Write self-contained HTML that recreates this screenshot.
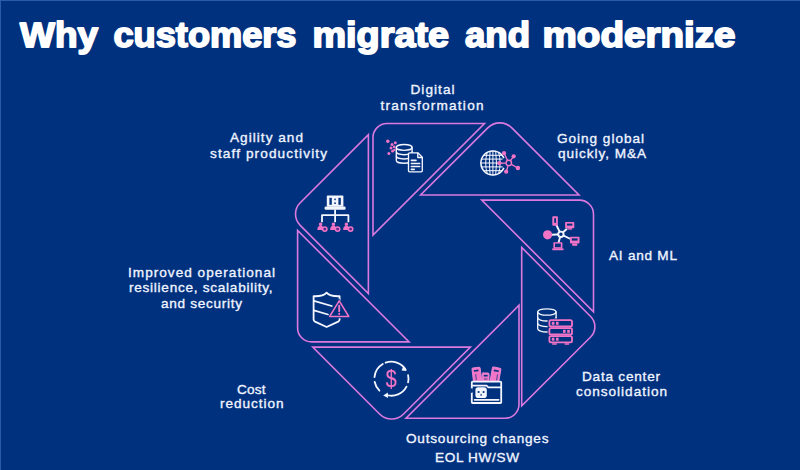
<!DOCTYPE html>
<html lang="en">
<head>
<meta charset="utf-8">
<title>Why customers migrate and modernize</title>
<style>
  html, body { margin:0; padding:0; background:#00317F; }
  body { width:800px; height:470px; overflow:hidden; position:relative; font-family:"Liberation Sans", sans-serif; }
  svg { display:block; position:absolute; left:0; top:0; }
  .title text { font-family:"Liberation Sans", sans-serif; font-weight:bold; font-size:34.8px; fill:#fff; stroke:#fff; stroke-width:1.8px; stroke-linejoin:round; }
  .lab text { font-family:"Liberation Sans", sans-serif; font-size:13.6px; fill:#F0F4FF; stroke:#F0F4FF; stroke-width:0.35px; }
  .tri { filter: blur(0.35px); }
  #icons { filter: blur(0.3px); }
  .tri path { fill:none; stroke:#DB79DF; stroke-width:1.6; stroke-linejoin:miter; }
</style>
</head>
<body>
<svg width="800" height="470" viewBox="0 0 800 470">
  <rect x="0" y="0" width="800" height="470" fill="#00317F"/>
  <rect x="0" y="0" width="800" height="1" fill="#2C5AA6"/>
  <rect x="0" y="0" width="1" height="470" fill="#2C5AA6"/>
  <g class="title">
    <text x="20.0" y="47.0" textLength="78.0" lengthAdjust="spacingAndGlyphs">Why</text>
    <text x="113.5" y="47.0" textLength="183.0" lengthAdjust="spacingAndGlyphs">customers</text>
    <text x="312.5" y="47.0" textLength="136.5" lengthAdjust="spacingAndGlyphs">migrate</text>
    <text x="465.0" y="47.0" textLength="65.0" lengthAdjust="spacingAndGlyphs">and</text>
    <text x="542.5" y="47.0" textLength="193.0" lengthAdjust="spacingAndGlyphs">modernize</text>
  </g>
  <g class="tri">
    <path d="M387.00,123.50 L484.50,123.50 L373.00,235.00 L373.00,137.50 A14,14 0 0 1 387.00,123.50 Z"/>
    <path d="M511.82,127.82 L579.00,195.00 L420.60,195.00 L487.78,127.82 A17,17 0 0 1 511.82,127.82 Z"/>
    <path d="M593.50,214.10 L593.50,311.90 L481.70,200.10 L579.50,200.10 A14,14 0 0 1 593.50,214.10 Z"/>
    <path d="M590.65,336.95 L521.70,405.90 L521.70,247.50 L590.65,316.45 A14.5,14.5 0 0 1 590.65,336.95 Z"/>
    <path d="M505.00,418.30 L406.00,418.30 L519.00,305.30 L519.00,404.30 A14,14 0 0 1 505.00,418.30 Z"/>
    <path d="M379.58,413.98 L312.76,347.16 L470.44,347.16 L403.62,413.98 A17,17 0 0 1 379.58,413.98 Z"/>
    <path d="M297.60,327.90 L297.60,230.40 L409.10,341.90 L311.60,341.90 A14,14 0 0 1 297.60,327.90 Z"/>
    <path d="M300.21,202.79 L368.38,134.62 L368.38,293.58 L300.21,225.41 A16,16 0 0 1 300.21,202.79 Z"/>
  </g>
  <g class="lab">
    <text x="410.5" y="94.3" textLength="44.0" lengthAdjust="spacing">Digital</text>
    <text x="380.5" y="109.7" textLength="103.0" lengthAdjust="spacing">transformation</text>
    <text x="230.0" y="142.2" textLength="73.0" lengthAdjust="spacing">Agility and</text>
    <text x="210.0" y="157.6" textLength="117.0" lengthAdjust="spacing">staff productivity</text>
    <text x="128.0" y="276.6" textLength="147.0" lengthAdjust="spacing">Improved operational</text>
    <text x="129.0" y="292.4" textLength="143.5" lengthAdjust="spacing">resilience, scalability,</text>
    <text x="161.0" y="307.9" textLength="81.0" lengthAdjust="spacing">and security</text>
    <text x="237.0" y="393.6" textLength="28.5" lengthAdjust="spacing">Cost</text>
    <text x="220.0" y="408.0" textLength="63.5" lengthAdjust="spacing">reduction</text>
    <text x="406.0" y="442.6" textLength="142.5" lengthAdjust="spacing">Outsourcing changes</text>
    <text x="435.0" y="461.5" textLength="84.0" lengthAdjust="spacing">EOL HW/SW</text>
    <text x="557.0" y="142.6" textLength="87.0" lengthAdjust="spacing">Going global</text>
    <text x="558.0" y="157.6" textLength="88.0" lengthAdjust="spacing">quickly, M&amp;A</text>
    <text x="609.0" y="259.7" textLength="68.0" lengthAdjust="spacing">AI and ML</text>
    <text x="582.0" y="381.0" textLength="78.0" lengthAdjust="spacing">Data center</text>
    <text x="576.0" y="396.4" textLength="91.0" lengthAdjust="spacing">consolidation</text>
  </g>
  <!-- ICONS -->
  <g id="icons" fill="none" stroke-linecap="round" stroke-linejoin="round">
    <!-- 1: digital transformation : database + document + pixels -->
    <g stroke="#F4F6FF" stroke-width="1.35">
      <ellipse cx="404.2" cy="147.4" rx="7.9" ry="2.9"/>
      <path d="M396.3,147.4 V160.4 A7.9,2.9 0 0 0 412.1,160.4 V147.4"/>
      <path d="M396.3,151.8 A7.9,2.9 0 0 0 412.1,151.8"/>
      <path d="M396.3,156.1 A7.9,2.9 0 0 0 412.1,156.1"/>
      <path d="M409.6,152.8 H417.8 L422.3,157.3 V170.8 Q422.3,171.9 421.2,171.9 H409.6 Q408.5,171.9 408.5,170.8 V153.9 Q408.5,152.8 409.6,152.8 Z" fill="#00317F"/>
      <path d="M417.8,153.2 V157.5 H422.1"/>
      <path d="M411.4,160.4 H416 M411.4,163.5 H419.6 M411.4,166.5 H419.6 M411.4,169.4 H414.2" stroke-width="1.6"/>
    </g>
    <g fill="#F274C6" stroke="none">
      <circle cx="387.8" cy="141.3" r="1.7"/>
      <circle cx="392" cy="144.4" r="1.5"/>
      <circle cx="395.3" cy="142.8" r="1.5"/>
      <circle cx="391" cy="148" r="1.5"/>
      <circle cx="394.2" cy="146.9" r="1.4"/>
      <circle cx="392.6" cy="151.2" r="1.4"/>
      <circle cx="388.9" cy="153.4" r="1.5"/>
      <circle cx="394.4" cy="149.9" r="1.2"/>
    </g>

    <!-- 2: going global : globe + network hub -->
    <g stroke="#F4F6FF" stroke-width="1.35">
      <circle cx="492.9" cy="163" r="12" stroke-width="1.6"/>
      <g stroke-width="1.0">
      <path d="M492.9,151 V175 M495.71,151.33 Q497.29,163.00 495.71,174.67 M490.09,151.33 Q488.51,163.00 490.09,174.67 M498.59,152.44 Q501.81,163.00 498.59,173.56 M487.21,152.44 Q483.99,163.00 487.21,173.56"/>
      <path d="M480.90,163.00 H504.90 M481.55,166.90 H504.25 M481.55,159.10 H504.25 M483.70,170.70 H502.10 M483.70,155.30 H502.10"/>
      </g>
    </g>
    <circle cx="507.6" cy="163" r="6.2" fill="#00317F" stroke="none"/>
    <g stroke="#F274C6" stroke-width="1.4">
      <path d="M508.8,162.9 L504,153.3 M508.8,162.9 L513.6,156.4 M508.8,162.9 L517.8,168 M508.8,162.9 L506.3,171.6 M508.8,162.9 L499.4,163.2"/>
      <circle cx="508.8" cy="162.9" r="2.7" fill="#00317F"/>
    </g>
    <g fill="#F274C6" stroke="none">
      <circle cx="504" cy="153.2" r="2.1"/>
      <circle cx="513.7" cy="156.3" r="2.1"/>
      <circle cx="517.9" cy="168" r="2.2"/>
      <circle cx="506.2" cy="171.7" r="2.1"/>
      <circle cx="499.3" cy="163.2" r="2.1"/>
    </g>

    <!-- 3: AI and ML : hub with devices -->
    <g stroke="#F4F6FF" stroke-width="1.9">
      <path d="M560.9,234.3 L556.6,225.5 M560.9,234.3 L566.4,229.3 M560.9,234.3 L570.6,239 M560.9,234.3 L558.6,242.4 M560.9,234.3 L552,234.7"/>
      <circle cx="560.9" cy="234.3" r="2.7" fill="#00317F"/>
    </g>
    <g fill="#F274C6" stroke="none">
      <rect x="552.3" y="216.2" width="5.6" height="9.6" rx="0.8"/>
      <rect x="565.1" y="222" width="9.2" height="6.2" rx="0.8"/>
      <rect x="567.4" y="228.2" width="4.6" height="1.4"/>
      <rect x="569.9" y="236.8" width="9.6" height="6.6" rx="0.8"/>
      <rect x="572.2" y="243.4" width="5" height="2.4"/>
      <rect x="553.4" y="242.2" width="9" height="6.2" rx="0.6"/>
      <rect x="552.2" y="248.3" width="11.4" height="1.9" rx="0.6"/>
      <circle cx="547.6" cy="234.8" r="4.6"/>
    </g>
    <g fill="#00317F" stroke="none">
      <rect x="554.2" y="218.2" width="1.8" height="4.6"/>
      <rect x="567" y="223.6" width="5.4" height="2"/>
      <rect x="571.8" y="238.4" width="5.8" height="2.2"/>
      <rect x="555" y="243.6" width="5.8" height="3.6"/>
    </g>

    <!-- 4: data center consolidation : database + server rack -->
    <g stroke="#F4F6FF" stroke-width="1.35">
      <ellipse cx="546.9" cy="312" rx="9.2" ry="3.2"/>
      <path d="M537.7,312 V328.8 A9.2,3.2 0 0 0 556.1,328.8 V312"/>
      <path d="M537.7,317.8 A9.2,3.2 0 0 0 556.1,317.8"/>
      <path d="M537.7,323.4 A9.2,3.2 0 0 0 556.1,323.4"/>
    </g>
    <rect x="547.6" y="318.4" width="26" height="26" fill="#00317F" stroke="none"/>
    <g stroke="#F274C6" stroke-width="1.8">
      <rect x="549.4" y="320.1" width="22.6" height="6.4" rx="1.6"/>
      <rect x="549.4" y="328.1" width="22.6" height="6.4" rx="1.6"/>
      <rect x="549.4" y="336.1" width="22.6" height="6.2" rx="1.6"/>
      <path d="M552.8,344 H556.2 M565.2,344 H568.6" stroke-width="1.6"/>
    </g>
    <g fill="#F274C6" stroke="none">
      <rect x="551.8" y="321.8" width="2.6" height="3"/>
      <rect x="556" y="321.8" width="2.6" height="3"/>
      <rect x="563" y="329.8" width="2.6" height="3"/>
      <rect x="567.2" y="329.8" width="2.6" height="3"/>
      <rect x="551.8" y="337.7" width="2.6" height="3"/>
      <rect x="556" y="337.7" width="2.6" height="3"/>
    </g>

    <!-- 5: outsourcing changes : wallet with cards -->
    <g stroke="#E886D6" stroke-width="1" fill="#F274C6">
      <rect x="473.6" y="367.6" width="8.2" height="15" rx="1.2" transform="rotate(-7 477.6 382)"/>
      <rect x="490" y="367.4" width="8.6" height="15" rx="1.2" transform="rotate(10 494.4 382)"/>
      <rect x="482.2" y="373" width="6.8" height="10" rx="1"/>
    </g>
    <g fill="#00317F" stroke="none">
      <rect x="475.2" y="369.8" width="4.6" height="1.7" transform="rotate(-7 477.6 382)"/>
      <rect x="476" y="374" width="1.2" height="6" transform="rotate(-7 477.6 382)" opacity="0.6"/>
      <rect x="491.8" y="369.8" width="5" height="1.7" transform="rotate(10 494.4 382)"/>
      <rect x="495.6" y="374" width="1.2" height="6" transform="rotate(10 494.4 382)" opacity="0.6"/>
      <rect x="483.8" y="374.9" width="3.8" height="1.6"/>
      <rect x="484" y="378.4" width="3.4" height="1.2" opacity="0.6"/>
    </g>
    <rect x="471.8" y="381.6" width="29.4" height="21.4" fill="#00317F" stroke="none"/>
    <g stroke="#F4F6FF" stroke-width="1.8">
      <rect x="471.8" y="381.6" width="29.4" height="21.4" rx="0.8"/>
      <path d="M472.4,385.6 H486.5 L488.4,387.4 H500.8 M474.6,399.8 H498.6"/>
      <path d="M471.8,389.4 V391.8" stroke="#00317F" stroke-width="2.2"/>
    </g>
    <g fill="#F4F6FF" stroke="none">
      <path d="M475.4,390 Q475.4,387.2 478.2,387.2 H484 Q486.8,387.2 486.8,390 V395.2 Q486.8,398 484,398 H478.2 Q475.4,398 475.4,395.2 Z"/>
    </g>
    <g fill="#00317F" stroke="none">
      <circle cx="478.6" cy="392" r="1.1"/>
      <circle cx="483.6" cy="392" r="1.1"/>
      <path d="M480,395.6 L481.1,393.4 L482.2,395.6 Z"/>
    </g>

    <!-- 6: cost reduction : circular arrows + dollar -->
    <g stroke="#F4F6FF" stroke-width="1.8">
      <path d="M385.6,362.7 A17,17 0 0 1 405.6,369.4"/>
      <path d="M408.1,375.2 A17,17 0 0 1 408.1,382.4"/>
      <path d="M406.5,386.6 A17,17 0 0 1 386.6,395"/>
      <path d="M379.4,390.7 A17,17 0 0 1 374.7,382"/>
      <path d="M374.5,377.2 A17,17 0 0 1 382.8,364"/>
    </g>
    <g fill="#F4F6FF" stroke="none">
      <path d="M403,366 L406.9,370.6 L401.9,370.9 Z" transform="rotate(8 404.5 369)"/>
      <path d="M387.8,392.4 L383.2,395.4 L388,398 Z"/>
    </g>
    <text transform="translate(391.2 386.8) scale(0.82 1)" x="0" y="0" text-anchor="middle" font-family="Liberation Sans, sans-serif" font-size="24" fill="#F274C6" stroke="#F274C6" stroke-width="0.2">$</text>

    <!-- 7: resilience : shield + warning -->
    <g stroke="#F4F6FF" stroke-width="1.8">
      <path d="M326.6,292.6 C324.6,295 319.4,296.4 313.6,296.2 V319.6 Q313.8,321 315,321.6 L326.6,327 L338.2,321.6 Q339.4,321 339.6,319.6 V296.2 C333.8,296.4 328.6,295 326.6,292.6 Z"/>
      <path d="M313.9,300.8 L331.8,306 M313.9,310.4 L328,314.5"/>
    </g>
    <path d="M339.2,298.6 L351.4,318.2 H327 Z" fill="#00317F" stroke="none"/>
    <g stroke="#F274C6" stroke-width="1.5">
      <path d="M339.2,300.8 L348.8,316.5 H329.6 Z"/>
      <path d="M339.2,305.6 V311.2 M339.2,313.7 V314" stroke-width="1.9"/>
    </g>

    <!-- 8: agility : laptop + org tree + people -->
    <g fill="#F4F6FF" stroke="none">
      <rect x="326.8" y="195.6" width="16.6" height="11.2" rx="0.8"/>
      <rect x="324.6" y="206.6" width="21" height="3.1" rx="1.2"/>
    </g>
    <g fill="#00317F" stroke="none">
      <rect x="329.4" y="197.8" width="2.4" height="7"/>
      <rect x="338.4" y="197.8" width="2.4" height="7"/>
      <rect x="334.3" y="198.6" width="1.5" height="1.6"/>
      <rect x="334.3" y="202.4" width="1.5" height="1.6"/>
    </g>
    <g stroke="#F4F6FF" stroke-width="1.8" stroke-linecap="butt">
      <path d="M335.1,209.6 V222.2 M322,222.2 V215.2 H348.4 V222.2"/>
    </g>
    <g stroke="#F274C6" stroke-width="1.2" fill="#F274C6">
      <circle cx="320.6" cy="224.3" r="1.2"/><path d="M318.0,229.4 A2.6,3 0 0 1 323.2,229.4 Z"/>
      <circle cx="324.8" cy="229.1" r="2.2" fill="#5A2A8C" stroke-width="1.5"/>
      <circle cx="333.4" cy="224.3" r="1.2"/><path d="M330.8,229.4 A2.6,3 0 0 1 336.0,229.4 Z"/>
      <circle cx="337.6" cy="229.1" r="2.2" fill="#5A2A8C" stroke-width="1.5"/>
      <circle cx="346.4" cy="224.3" r="1.2"/><path d="M343.8,229.4 A2.6,3 0 0 1 349.0,229.4 Z"/>
      <circle cx="350.6" cy="229.1" r="2.2" fill="#5A2A8C" stroke-width="1.5"/>
    </g>
  </g>

</svg>
</body>
</html>
